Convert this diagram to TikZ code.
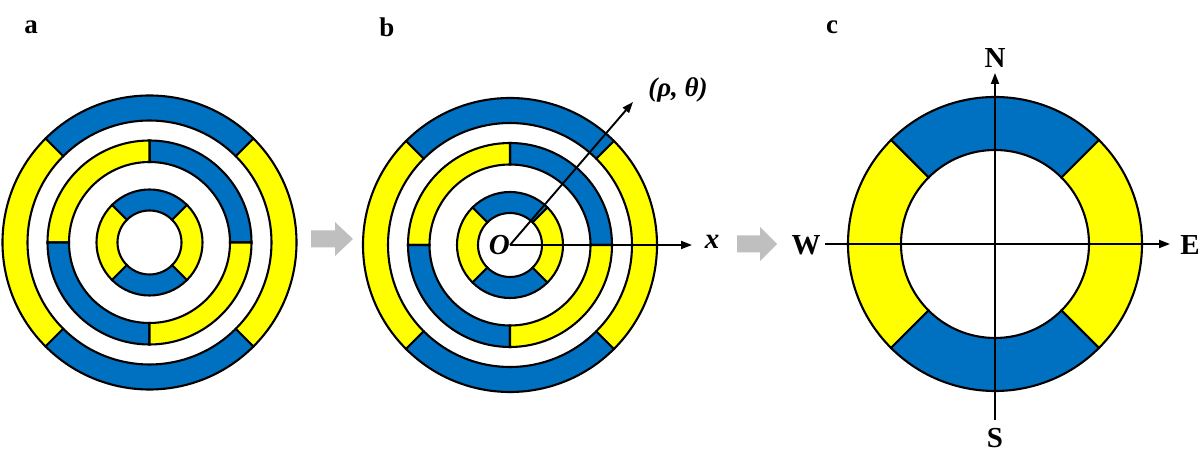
\documentclass[tikz,border=0pt]{standalone}
\usepackage{fontspec}
\setmainfont{Liberation Serif}
\usetikzlibrary{arrows.meta}
\definecolor{segblue}{HTML}{0070C0}
\definecolor{segyellow}{HTML}{FFFF00}
\definecolor{arrowgray}{HTML}{BFBFBF}
\newcommand\ringseg[5]{\filldraw[fill=#1,segline] (#2:#5) arc[start angle=#2,end angle=#3,radius=#5] -- (#3:#4) arc[start angle=#3,end angle=#2,radius=#4] -- cycle;}
\newcommand\crossring[3]{% #1 inner r, #2 outer r, blue at top/bottom
\ringseg{segblue}{45}{135}{#1}{#2}\ringseg{segyellow}{135}{225}{#1}{#2}\ringseg{segblue}{225}{315}{#1}{#2}\ringseg{segyellow}{-45}{45}{#1}{#2}}
\newcommand\quadring[2]{%
\ringseg{segblue}{0}{90}{#1}{#2}\ringseg{segyellow}{90}{180}{#1}{#2}\ringseg{segblue}{180}{270}{#1}{#2}\ringseg{segyellow}{270}{360}{#1}{#2}}
\tikzset{
  segline/.style={draw=black,line width=2.1pt},
  axisline/.style={line width=1.9pt,-{Triangle[length=11pt,width=8pt]}},
  panellbl/.style={font=\fontsize{27}{30}\selectfont\bfseries,inner sep=0pt},
  dirlbl/.style={font=\fontsize{29}{32}\selectfont\bfseries,inner sep=0pt},
  mathlbl/.style={font=\fontsize{29}{32}\selectfont\bfseries\itshape,inner sep=0pt},
  graybig/.style={fill=arrowgray}
}
\begin{document}
\begin{tikzpicture}[x=1pt,y=1pt]
\useasboundingbox (0,0) rectangle (1200,454);
% panel labels
\node[panellbl] (la) at (31,427) {a};
\node[panellbl] (lb) at (387,427) {b};
\node[panellbl] (lc) at (832,427) {c};
% panel a
\begin{scope}[shift={(149.5,211.5)}]
\crossring{122}{147}{}
\quadring{80.5}{102}
\crossring{32}{53}{}
\end{scope}
% gray arrow 1
\fill[graybig] (311,206.5) -- (335,206.5) -- (335,198) -- (353,215) -- (335,232) -- (335,223.5) -- (311,223.5) -- cycle;
% panel b
\begin{scope}[shift={(510,209)}]
\crossring{122}{147}{}
\quadring{80.5}{102}
\crossring{32}{53}{}
\end{scope}
\coordinate (bO) at (510,209);
\coordinate (bX) at (692,209);
\coordinate (bP) at (633,352);
\draw[axisline] (bO) -- (bX);
\draw[axisline] (bO) -- (bP);
\node[mathlbl,anchor=east] (lO) at (510,209) {O};
\node[mathlbl] (lx) at (712,212) {x};
\node[font=\fontsize{27}{30}\selectfont\bfseries\itshape,inner sep=0pt] (lp) at (678,364) {(ρ, θ)};
% gray arrow 2
\fill[graybig] (737,201.5) -- (760,201.5) -- (760,193) -- (777,210) -- (760,227) -- (760,218.5) -- (737,218.5) -- cycle;
% panel c
\begin{scope}[shift={(995,210)}]
\crossring{94}{147}{}
\end{scope}
\coordinate (cS) at (995,34);
\coordinate (cN) at (995,381);
\coordinate (cW) at (825,210);
\coordinate (cE) at (1170,210);
\draw[axisline] (cS) -- (cN);
\draw[axisline] (cW) -- (cE);
\node[dirlbl] (lN) at (995,396) {N};
\node[dirlbl] (lS) at (995,16) {S};
\node[dirlbl] (lW) at (806,209) {W};
\node[dirlbl] (lE) at (1190,209) {E};
\end{tikzpicture}
\end{document}
